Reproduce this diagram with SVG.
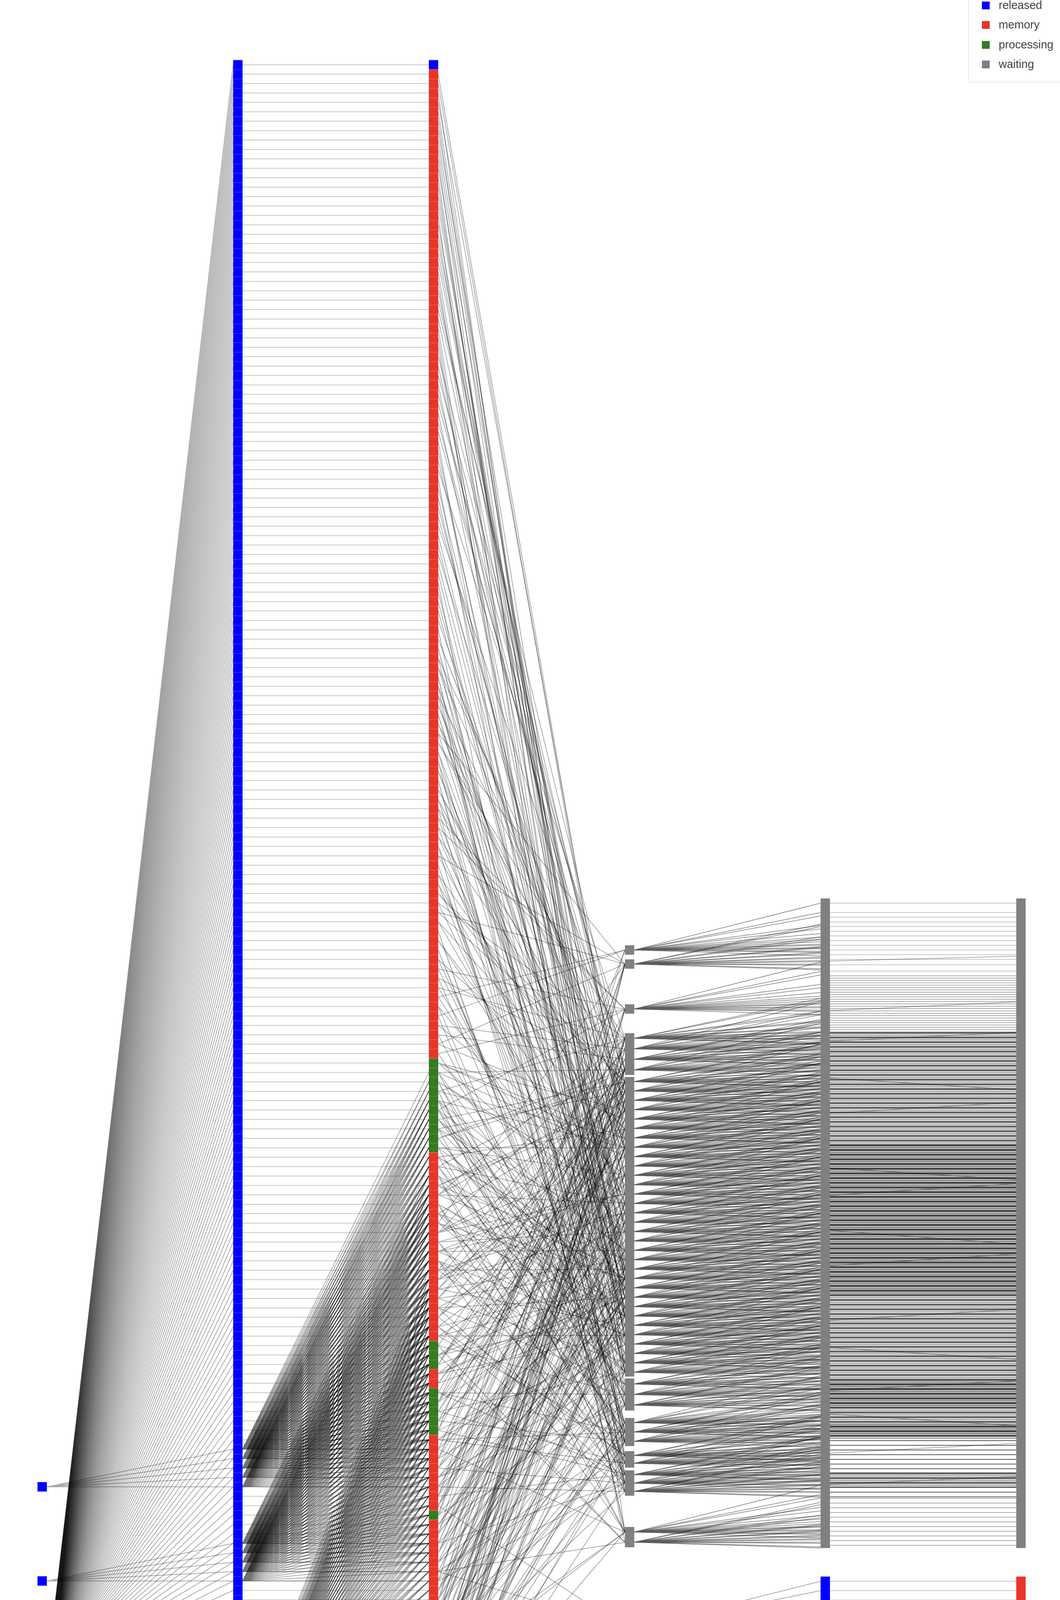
<svg xmlns="http://www.w3.org/2000/svg" width="2714" height="4592" viewBox="0 0 2714 4592">
<style>
path{vector-effect:non-scaling-stroke}
.e{fill:none;stroke:#000;stroke-opacity:.33;stroke-width:2}
.f{fill:none;stroke:#000;stroke-opacity:.4;stroke-width:2}
.m{fill:none;stroke:#000;stroke-opacity:.5;stroke-width:2}
.d{fill:none;stroke:#000;stroke-opacity:.65;stroke-width:2}
.h{fill:none;stroke:#000;stroke-opacity:.22;stroke-width:2}
.rel{fill:#0000ff}.mem{fill:#e8352a}.pro{fill:#367a23}.wai{fill:#808080}
.lt{font-family:"Liberation Sans",Arial,sans-serif;font-size:29px;fill:#444}
</style>
<defs>
<pattern id="sp" patternUnits="userSpaceOnUse" x="0" y="153.6" width="24" height="24.11"><rect width="24" height="1" fill="#fff" fill-opacity=".3"/></pattern>
<g id="fA">
<path d="M0 0H477M0 0L477-48.2M0 0L477-96.4M0 0L477-144.7M0 0L477-192.9M0 0L477-241.1M0 0L477-289.3M0 0L477-337.5M0 0L477-385.8M0 0L477-434M0 0L477-482.2M0 0L477-530.4M0 0L477-578.6M0 0L477-626.9M0 0L477-675.1M0 0L477-723.3M0 0L477-771.5M0 0L477-819.7M0 0L477-868M0 0L477-916.2M0 0L477-964.4"/>
<path d="M0 0L477-24.1M0 0L477-72.3M0 0L477-120.6M0 0L477-168.8M0 0L477-217M0 0L477-265.2M0 0L477-313.4M0 0L477-361.7M0 0L477-409.9M0 0L477-458.1M0 0L477-506.3M0 0L477-554.5M0 0L477-602.8M0 0L477-651M0 0L477-699.2M0 0L477-747.4M0 0L477-795.6M0 0L477-843.9M0 0L477-892.1M0 0L477-940.3"/>
</g>
<g id="fC">
<use href="#fA"/>
<path d="M0 0L477-988.5M0 0L477-1012.6M0 0L477-1036.7M0 0L477-1060.8M0 0L477-1085M0 0L477-1109.1M0 0L477-1133.2M0 0L477-1157.3M0 0L477-1181.4M0 0L477-1205.5"/>
</g>
<path id="f34" d="M0 0L477 6M0 0L477-3M0 0L477-12M0 0L477-21M0 0L477-33M0 0L477-54M0 0L477-87M0 0L477-120"/>
<path id="f35" d="M0 0L477 12M0 0L477 0M0 0L477-9M0 0L477-18M0 0L477-30M0 0L477-45M0 0L477-69M0 0L477-102"/>
<path id="f36" d="M0 0L477 15M0 0L477 3M0 0L477-6M0 0L477-15M0 0L477-27M0 0L477-42M0 0L477-63M0 0L477-96"/>
<g id="g34"><use href="#f34"/><use href="#f36"/></g>
<g id="g35"><use href="#f35"/><use href="#f36"/></g>
</defs>
<rect width="2714" height="4592" fill="#fff"/>
<g id="connectors">
<g transform="translate(0 153.6) scale(1 24.11)">
<g class="h">
<path d="M621 .5h477m-477 1h477m-477 1h477m-477 1h477m-477 1h477m-477 1h477m-477 1h477m-477 1h477m-477 1h477m-477 1h477m-477 1h477m-477 1h477m-477 1h477m-477 1h477m-477 1h477m-477 1h477m-477 1h477m-477 1h477m-477 1h477m-477 1h477m-477 1h477m-477 1h477m-477 1h477m-477 1h477m-477 1h477m-477 1h477m-477 1h477m-477 1h477m-477 1h477m-477 1h477m-477 1h477m-477 1h477m-477 1h477m-477 1h477m-477 1h477m-477 1h477m-477 1h477m-477 1h477m-477 1h477m-477 1h477m-477 1h477m-477 1h477m-477 1h477m-477 1h477m-477 1h477m-477 1h477m-477 1h477m-477 1h477m-477 1h477m-477 1h477m-477 1h477m-477 1h477m-477 1h477m-477 1h477m-477 1h477m-477 1h477m-477 1h477m-477 1h477m-477 1h477m-477 1h477m-477 1h477m-477 1h477m-477 1h477m-477 1h477m-477 1h477m-477 1h477m-477 1h477m-477 1h477m-477 1h477m-477 1h477m-477 1h477m-477 1h477m-477 1h477m-477 1h477m-477 1h477m-477 1h477m-477 1h477m-477 1h477m-477 1h477m-477 1h477m-477 1h477m-477 1h477m-477 1h477m-477 1h477m-477 1h477m-477 1h477m-477 1h477m-477 1h477m-477 1h477m-477 1h477m-477 1h477m-477 1h477m-477 1h477m-477 1h477m-477 1h477m-477 1h477m-477 1h477m-477 1h477m-477 1h477m-477 1h477m-477 1h477m-477 1h477m-477 1h477m-477 1h477m-477 1h477m-477 1h477m-477 1h477m-477 1h477m-477 1h477m-477 1h477m-477 1h477m-477 1h477m-477 1h477m-477 1h477m-477 1h477m-477 1h477m-477 1h477m-477 1h477m-477 1h477m-477 1h477m-477 1h477m-477 1h477m-477 1h477m-477 1h477m-477 1h477m-477 1h477m-477 1h477m-477 1h477m-477 1h477m-477 1h477m-477 1h477m-477 1h477m-477 1h477m-477 1h477m-477 1h477m-477 1h477m-477 1h477m-477 1h477m-477 1h477m-477 1h477m-477 1h477m-477 1h477m-477 1h477m-477 1h477m-477 1h477m-477 1h477m-477 1h477m-477 1h477m-477 1h477m-477 1h477m-477 1h477m-477 1h477m-477 1h477m-477 1h477m-477 1h477m-477 1h477m-477 1h477m-477 1h477m-477 1h477m-477 1h477m-477 1h477m-477 1h477m-477 1h477m-477 1h477m-477 1h477m-477 1h477m-477 1h477m-477 1h477m-477 1h477m-477 1h477m-477 1h477m-477 1h477m-477 1h477m-477 1h477m-477 1h477m-477 1h477m-477 1h477m-477 1h477m-477 1h477m-477 1h477m-477 1h477m-477 1h477m-477 1h477m-477 1h477m-477 1h477"/>
<path d="M621 178.5h477m-477 1h477m-477 1h477m-477 1h477"/>
</g>
<g class="e">
<g transform="translate(120 171.5)">
<path d="M0 0H477M0 0L477-6M0 0L477-12M0 0L477-18M0 0L477-24M0 0L477-30M0 0L477-36M0 0L477-42M0 0L477-48M0 0L477-54M0 0L477-60M0 0L477-66M0 0L477-72M0 0L477-78M0 0L477-84M0 0L477-90M0 0L477-96M0 0L477-102M0 0L477-108M0 0L477-114M0 0L477-120M0 0L477-126M0 0L477-132M0 0L477-138M0 0L477-144M0 0L477-150M0 0L477-156M0 0L477-162M0 0L477-168"/>
<path d="M0 0L477-1M0 0L477-7M0 0L477-13M0 0L477-19M0 0L477-25M0 0L477-31M0 0L477-37M0 0L477-43M0 0L477-49M0 0L477-55M0 0L477-61M0 0L477-67M0 0L477-73M0 0L477-79M0 0L477-85M0 0L477-91M0 0L477-97M0 0L477-103M0 0L477-109M0 0L477-115M0 0L477-121M0 0L477-127M0 0L477-133M0 0L477-139M0 0L477-145M0 0L477-151M0 0L477-157M0 0L477-163M0 0L477-169"/>
<path d="M0 0L477-2M0 0L477-8M0 0L477-14M0 0L477-20M0 0L477-26M0 0L477-32M0 0L477-38M0 0L477-44M0 0L477-50M0 0L477-56M0 0L477-62M0 0L477-68M0 0L477-74M0 0L477-80M0 0L477-86M0 0L477-92M0 0L477-98M0 0L477-104M0 0L477-110M0 0L477-116M0 0L477-122M0 0L477-128M0 0L477-134M0 0L477-140M0 0L477-146M0 0L477-152M0 0L477-158M0 0L477-164M0 0L477-170"/>
<path d="M0 0L477-3M0 0L477-9M0 0L477-15M0 0L477-21M0 0L477-27M0 0L477-33M0 0L477-39M0 0L477-45M0 0L477-51M0 0L477-57M0 0L477-63M0 0L477-69M0 0L477-75M0 0L477-81M0 0L477-87M0 0L477-93M0 0L477-99M0 0L477-105M0 0L477-111M0 0L477-117M0 0L477-123M0 0L477-129M0 0L477-135M0 0L477-141M0 0L477-147M0 0L477-153M0 0L477-159M0 0L477-165M0 0L477-171"/>
<path d="M0 0L477-4M0 0L477-10M0 0L477-16M0 0L477-22M0 0L477-28M0 0L477-34M0 0L477-40M0 0L477-46M0 0L477-52M0 0L477-58M0 0L477-64M0 0L477-70M0 0L477-76M0 0L477-82M0 0L477-88M0 0L477-94M0 0L477-100M0 0L477-106M0 0L477-112M0 0L477-118M0 0L477-124M0 0L477-130M0 0L477-136M0 0L477-142M0 0L477-148M0 0L477-154M0 0L477-160M0 0L477-166"/>
<path d="M0 0L477-5M0 0L477-11M0 0L477-17M0 0L477-23M0 0L477-29M0 0L477-35M0 0L477-41M0 0L477-47M0 0L477-53M0 0L477-59M0 0L477-65M0 0L477-71M0 0L477-77M0 0L477-83M0 0L477-89M0 0L477-95M0 0L477-101M0 0L477-107M0 0L477-113M0 0L477-119M0 0L477-125M0 0L477-131M0 0L477-137M0 0L477-143M0 0L477-149M0 0L477-155M0 0L477-161M0 0L477-167"/>
</g>
<path d="M120 151.5L597 147.5M120 151.5L597 148.5M120 151.5L597 149.5M120 151.5L597 150.5M120 151.5H597"/>
<path d="M120 161.5L597 157.5M120 161.5L597 158.5M120 161.5L597 159.5M120 161.5L597 160.5M120 161.5H597"/>
<path d="M120 181.5L597 178.5M120 181.5L597 179.5M120 181.5L597 180.5M120 181.5H597"/>
<path d="M1122 1.5L1600 115.5"/><path d="M1122 2.5L1600 116.4"/><path d="M1122 3.5L1600 141.7"/><path d="M1122 4.5L1600 114.5"/><path d="M1122 5.5L1600 136.4"/><path d="M1122 6.5L1600 138.3"/><path d="M1122 7.5L1600 128.4"/><path d="M1122 8.5L1600 133.4"/><path d="M1122 9.5L1600 139.3"/><path d="M1122 10.5L1600 149"/>
<path d="M1122 11.5L1600 127.4"/><path d="M1122 12.5L1600 145.7"/><path d="M1122 13.5L1600 139.3"/><path d="M1122 14.5L1600 133.4"/><path d="M1122 15.5L1600 128.4"/><path d="M1122 16.5L1600 156.3"/><path d="M1122 17.5L1600 129.4"/><path d="M1122 18.5L1600 133.4"/><path d="M1122 19.5L1600 120.4"/><path d="M1122 20.5L1600 120.4"/>
<path d="M1122 21.5L1600 118.4"/><path d="M1122 22.5L1600 140.6"/><path d="M1122 23.5L1600 142.8"/><path d="M1122 24.5L1600 124.4"/><path d="M1122 25.5L1600 111.5"/><path d="M1122 26.5L1600 107.2"/><path d="M1122 27.5L1600 121.4"/><path d="M1122 28.5L1600 148.2"/><path d="M1122 29.5L1600 152"/><path d="M1122 30.5L1600 146.7"/>
<path d="M1122 31.5L1600 108.5"/><path d="M1122 32.5L1600 124.4"/><path d="M1122 33.5L1600 108.5"/><path d="M1122 34.5L1600 130.4"/><path d="M1122 35.5L1600 113.5"/><path d="M1122 36.5L1600 107.2"/><path d="M1122 37.5L1600 129.4"/><path d="M1122 38.5L1600 111.5"/><path d="M1122 39.5L1600 109.5"/><path d="M1122 40.5L1600 150.2"/>
<path d="M1122 41.5L1600 135.4"/><path d="M1122 42.5L1600 129.4"/><path d="M1122 43.5L1600 103.9"/><path d="M1122 44.5L1600 151.1"/><path d="M1122 45.5L1600 126.4"/><path d="M1122 46.5L1600 135.4"/><path d="M1122 47.5L1600 122.4"/><path d="M1122 48.5L1600 118.4"/><path d="M1122 49.5L1600 107.2"/><path d="M1122 50.5L1600 128.4"/>
<path d="M1122 51.5L1600 131.4"/><path d="M1122 52.5L1600 115.5"/><path d="M1122 53.5L1600 129.4"/><path d="M1122 54.5L1600 135.4"/><path d="M1122 55.5L1600 157.4"/><path d="M1122 56.5L1600 133.4"/><path d="M1122 57.5L1600 131.4"/><path d="M1122 58.5L1600 131.4"/><path d="M1122 59.5L1600 115.5"/><path d="M1122 60.5L1600 150.2"/>
<path d="M1600 110.5L1122 61.5 1600 111.5"/><path d="M1600 139.3L1122 62.5 1600 134.4"/><path d="M1600 146.7L1122 63.5 1600 105"/><path d="M1600 109.5L1122 64.5 1600 128.4"/><path d="M1600 145.7L1122 65.5 1600 156.3"/>
<path d="M1600 156.3L1122 66.5 1600 122.4"/><path d="M1600 107.2L1122 67.5 1600 146.7"/><path d="M1600 123.4L1122 68.5 1600 116.4"/><path d="M1600 132.4L1122 69.5 1600 139.3"/><path d="M1600 121.4L1122 70.5 1600 110.5"/>
<path d="M1600 96L1122 71.5 1600 133.4"/><path d="M1600 108.5L1122 72.5 1600 103.9"/><path d="M1600 141.7L1122 73.5 1600 127.4"/><path d="M1600 130.4L1122 74.5 1600 152"/><path d="M1600 129.4L1122 75.5 1600 121.4"/>
<path d="M1600 151.1L1122 76.5 1600 145.7"/><path d="M1600 112.5L1122 77.5 1600 115.5"/><path d="M1600 118.4L1122 78.5 1600 138.3"/><path d="M1600 148.2L1122 79.5 1600 109.5"/><path d="M1600 100.8L1122 80.5 1600 132.4"/>
<path d="M1600 133.4L1122 81.5 1600 100.8"/><path d="M1600 111.5L1122 82.5 1600 126.4"/><path d="M1600 128.4L1122 83.5 1600 151.1"/><path d="M1600 96L1122 84.5 1600 120.4"/><path d="M1600 142.8L1122 85.5 1600 144.7"/>
<path d="M1600 134.4L1122 86.5 1600 114.5"/><path d="M1600 122.4L1122 87.5 1600 137.3"/><path d="M1600 111.5L1122 88.5 1600 108.5"/><path d="M1600 103.9L1122 89.5 1600 131.4"/><path d="M1600 108.5L1122 90.5 1600 96"/>
<path d="M1600 113.5L1122 91.5 1600 125.4"/><path d="M1600 149L1122 92.5 1600 150.2"/><path d="M1600 123.4L1122 93.5 1600 119.4"/><path d="M1600 144.7L1122 94.5 1600 142.8"/><path d="M1600 138.3L1122 95.5 1600 113.5"/>
<path d="M1600 100.8L1122 96.5 1600 136.4"/><path d="M1600 142.8L1122 97.5 1600 107.2"/><path d="M1600 103.9L1122 98.5 1600 130.4"/><path d="M1600 130.4L1122 99.5 1600 94.5"/><path d="M1600 146.7L1122 100.5 1600 124.4"/>
<path d="M1600 94.5L1122 101.5 1600 149"/><path d="M1600 105L1122 102.5 1600 118.4"/><path d="M1600 106.1L1122 103.5 1600 141.7"/><path d="M1600 96L1122 104.5 1600 112.5"/><path d="M1600 100.8L1122 105.5 1600 135.4"/>
<path d="M1600 123.4L1122 106.5 1600 114.5 1122 106.5 1600 115.5 1122 106.5 1600 111.5"/>
<path d="M1600 134.4L1122 107.5 1600 144.7 1122 107.5 1600 116.4 1122 107.5 1600 107.2"/>
<path d="M1600 146.7L1122 108.5 1600 120.4 1122 108.5 1600 141.7 1122 108.5 1600 121.4"/>
<path d="M1600 103.9L1122 109.5 1600 151.1 1122 109.5 1600 114.5 1122 109.5 1600 148.2"/>
<path d="M1600 115.5L1122 110.5 1600 126.4 1122 110.5 1600 136.4 1122 110.5 1600 152"/>
<path d="M1600 126.4L1122 111.5 1600 100.8 1122 111.5 1600 138.3 1122 111.5 1600 146.7"/>
<path d="M1600 137.3L1122 112.5 1600 132.4 1122 112.5 1600 128.4 1122 112.5 1600 108.5"/>
<path d="M1600 150.2L1122 113.5 1600 109.5 1122 113.5 1600 133.4 1122 113.5 1600 124.4"/>
<path d="M1600 107.2L1122 114.5 1600 138.3 1122 114.5 1600 139.3 1122 114.5 1600 108.5"/>
<path d="M1600 118.4L1122 115.5 1600 115.5 1122 115.5 1600 149 1122 115.5 1600 130.4"/>
<path d="M1600 129.4L1122 116.5 1600 145.7 1122 116.5 1600 127.4 1122 116.5 1600 113.5"/>
<path d="M1600 140.6L1122 117.5 1600 121.4 1122 117.5 1600 145.7 1122 117.5 1600 107.2"/>
<path d="M1600 156.3L1122 118.5 1600 152 1122 118.5 1600 139.3 1122 118.5 1600 129.4"/>
<path d="M1600 110.5L1122 119.5 1600 127.4 1122 119.5 1600 133.4 1122 119.5 1600 111.5"/>
<path d="M1600 121.4L1122 120.5 1600 103.9 1122 120.5 1600 128.4 1122 120.5 1600 109.5"/>
<path d="M1600 132.4L1122 121.5 1600 133.4 1122 121.5 1600 156.3 1122 121.5 1600 150.2"/>
<path d="M1600 144.7L1122 122.5 1600 110.5 1122 122.5 1600 129.4 1122 122.5 1600 135.4"/>
<path d="M1600 96L1122 123.5 1600 139.3 1122 123.5 1600 133.4 1122 123.5 1600 129.4"/>
<path d="M1600 113.5L1122 124.5 1600 116.4 1122 124.5 1600 120.4 1122 124.5 1600 103.9"/>
<path d="M1600 124.4L1122 125.5 1600 146.7 1122 125.5 1600 120.4 1122 125.5 1600 151.1"/>
<path d="M1600 135.4L1122 126.5 1600 122.4 1122 126.5 1600 118.4 1122 126.5 1600 126.4"/>
<path d="M1600 148.2L1122 127.5 1600 156.3 1122 127.5 1600 140.6 1122 127.5 1600 135.4"/>
<path d="M1600 105L1122 128.5 1600 128.4 1122 128.5 1600 142.8 1122 128.5 1600 122.4"/>
<path d="M1600 116.4L1122 129.5 1600 105 1122 129.5 1600 124.4 1122 129.5 1600 118.4"/>
<path d="M1600 127.4L1122 130.5 1600 134.4 1122 130.5 1600 111.5 1122 130.5 1600 107.2"/>
<path d="M1600 138.3L1122 131.5 1600 111.5 1122 131.5 1600 107.2 1122 131.5 1600 128.4"/>
<path d="M1600 151.1L1122 132.5 1600 140.6 1122 132.5 1600 121.4 1122 132.5 1600 131.4"/>
<path d="M1600 108.5L1122 133.5 1600 117.4 1122 133.5 1600 148.2 1122 133.5 1600 115.5"/>
<path d="M1600 119.4L1122 134.5 1600 148.2 1122 134.5 1600 152 1122 134.5 1600 129.4"/>
<path d="M1600 130.4L1122 135.5 1600 123.4 1122 135.5 1600 146.7 1122 135.5 1600 135.4"/>
<path d="M1600 141.7L1122 136.5 1600 157.4 1122 136.5 1600 108.5 1122 136.5 1600 157.4"/>
<path d="M1600 157.4L1122 137.5 1600 129.4 1122 137.5 1600 124.4 1122 137.5 1600 133.4"/>
<path d="M1600 111.5L1122 138.5 1600 106.1 1122 138.5 1600 108.5 1122 138.5 1600 131.4"/>
<path d="M1600 122.4L1122 139.5 1600 135.4 1122 139.5 1600 130.4 1122 139.5 1600 131.4"/>
<path d="M1600 133.4L1122 140.5 1600 112.5 1122 140.5 1600 113.5 1122 140.5 1600 115.5"/>
<path d="M1600 145.7L1122 141.5 1600 141.7 1122 141.5 1600 107.2 1122 141.5 1600 150.2"/>
<path d="M1600 100.8L1122 142.5 1600 118.4 1122 142.5 1600 129.4 1122 142.5 1600 110.5"/>
<path d="M1600 114.5L1122 143.5 1600 149 1122 143.5 1600 111.5 1122 143.5 1600 139.3"/>
<path d="M1600 125.4L1122 144.5 1600 124.4 1122 144.5 1600 109.5 1122 144.5 1600 146.7"/>
<path d="M1600 136.4L1122 145.5 1600 94.5 1122 145.5 1600 150.2 1122 145.5 1600 109.5"/>
<path d="M1600 149L1122 146.5 1600 130.4 1122 146.5 1600 135.4 1122 146.5 1600 145.7"/>
<path d="M1600 106.1L1122 147.5 1600 107.2 1122 147.5 1600 129.4 1122 147.5 1600 156.3"/>
<path d="M1600 117.4L1122 148.5 1600 136.4 1122 148.5 1600 103.9 1122 148.5 1600 107.2"/>
<path d="M1600 128.4L1122 149.5 1600 113.5 1122 149.5 1600 151.1 1122 149.5 1600 123.4"/>
<path d="M1600 139.3L1122 150.5 1600 142.8 1122 150.5 1600 126.4 1122 150.5 1600 132.4"/>
<path d="M1600 152L1122 151.5 1600 119.4 1122 151.5 1600 135.4 1122 151.5 1600 121.4"/>
<path d="M1600 109.5L1122 152.5 1600 150.2 1122 152.5 1600 122.4 1122 152.5 1600 96"/>
<path d="M1600 120.4L1122 153.5 1600 125.4 1122 153.5 1600 118.4 1122 153.5 1600 108.5"/>
<path d="M1600 131.4L1122 154.5 1600 96 1122 154.5 1600 107.2 1122 154.5 1600 141.7"/>
<path d="M1600 142.8L1122 155.5 1600 131.4 1122 155.5 1600 128.4 1122 155.5 1600 130.4"/>
<path d="M1600 94.5L1122 156.5 1600 108.5 1122 156.5 1600 131.4 1122 156.5 1600 129.4"/>
<path d="M1600 112.5L1122 157.5 1600 137.3 1122 157.5 1600 115.5 1122 157.5 1600 151.1"/>
<path d="M1600 123.4L1122 158.5 1600 114.5 1122 158.5 1600 129.4 1122 158.5 1600 112.5"/>
<path d="M1600 134.4L1122 159.5 1600 144.7 1122 159.5 1600 135.4 1122 159.5 1600 118.4"/>
<path d="M1600 146.7L1122 160.5 1600 120.4 1122 160.5 1600 157.4 1122 160.5 1600 148.2"/>
<path d="M1600 103.9L1122 161.5 1600 151.1 1122 161.5 1600 133.4 1122 161.5 1600 100.8"/>
<path d="M1600 115.5L1122 162.5 1600 126.4 1122 162.5 1600 131.4 1122 162.5 1600 133.4"/>
<path d="M1600 126.4L1122 163.5 1600 100.8 1122 163.5 1600 131.4 1122 163.5 1600 111.5"/>
<path d="M1600 137.3L1122 164.5 1600 132.4 1122 164.5 1600 115.5 1122 164.5 1600 128.4"/>
<path d="M1600 150.2L1122 165.5 1600 109.5 1122 165.5 1600 150.2 1122 165.5 1600 96"/>
<path d="M1600 107.2L1122 166.5 1600 138.3 1122 166.5 1600 110.5 1122 166.5 1600 142.8"/>
<path d="M1600 118.4L1122 167.5 1600 115.5 1122 167.5 1600 139.3 1122 167.5 1600 134.4"/>
<path d="M1600 129.4L1122 168.5 1600 145.7 1122 168.5 1600 146.7 1122 168.5 1600 122.4"/>
<path d="M1600 140.6L1122 169.5 1600 121.4 1122 169.5 1600 109.5 1122 169.5 1600 111.5"/>
<path d="M1600 156.3L1122 170.5 1600 152 1122 170.5 1600 145.7 1122 170.5 1600 103.9"/>
<path d="M1600 110.5L1122 171.5 1600 127.4 1122 171.5 1600 156.3 1122 171.5 1600 108.5"/>
<path d="M1600 121.4L1122 172.5 1600 103.9 1122 172.5 1600 107.2 1122 172.5 1600 113.5"/>
<path d="M1600 132.4L1122 173.5 1600 133.4 1122 173.5 1600 123.4 1122 173.5 1600 149"/>
<path d="M1600 144.7L1122 174.5 1600 110.5 1122 174.5 1600 132.4 1122 174.5 1600 123.4"/>
<path d="M1600 96L1122 175.5 1600 139.3 1122 175.5 1600 121.4 1122 175.5 1600 144.7"/>
<path d="M1600 113.5L1122 176.5 1600 116.4 1122 176.5 1600 96 1122 176.5 1600 138.3"/>
<path d="M1600 124.4L1122 177.5 1600 146.7 1122 177.5 1600 108.5 1122 177.5 1600 100.8"/>
<path d="M1600 135.4L1122 178.5 1600 122.4 1122 178.5 1600 141.7 1122 178.5 1600 142.8"/>
<path d="M1600 148.2L1122 179.5 1600 156.3 1122 179.5 1600 130.4 1122 179.5 1600 103.9"/>
<path d="M1600 105L1122 180.5 1600 128.4 1122 180.5 1600 129.4 1122 180.5 1600 130.4"/>
<path d="M1600 116.4L1122 181.5 1600 105 1122 181.5 1600 151.1 1122 181.5 1600 146.7"/>
<path d="M1122 153.5L1600 166.5"/><path d="M1122 160.5L1600 166.5"/><path d="M1122 171.5L1600 166.5"/><path d="M1122 179.5L1600 166.5"/><path d="M1122 181.5L1600 166.5"/>
</g>
</g>
<g class="e">
<use href="#fA" x="621" y="3709.8"/><use href="#fA" x="621" y="3733.9"/><use href="#fA" x="621" y="3758"/><use href="#fA" x="621" y="3782.1"/><use href="#fA" x="621" y="3806.2"/>
<use href="#fA" x="621" y="3950.9"/><use href="#fA" x="621" y="3975"/><use href="#fA" x="621" y="3999.1"/><use href="#fA" x="621" y="4023.2"/><use href="#fA" x="621" y="4047.3"/>
<use href="#fC" x="621" y="4457.2"/><use href="#fC" x="621" y="4481.3"/><use href="#fC" x="621" y="4505.4"/><use href="#fC" x="621" y="4529.5"/>
<path d="M1624 4168L2101 4048"/><path d="M1624 4168L2101 4072"/><path d="M1624 4168L2101 4096"/><path d="M1624 4168L2101 4120"/><path d="M1624 4168L2101 4144"/><path d="M1624 4168H2101"/>
<path d="M2125 2498h477m-477 6h477m-477 6h477m-477 6h477m-477 6h477m-477 6h477m-477 6h477m-477 6h477m-477 6h477m-477 6h477m-477 6h477m-477 6h477m-477 6h477m-477 6h477m-477 6h477m-477 6h477m-477 6h477m-477 6h477m-477 6h477m-477 6h477m-477 6h477m-477 6h477m-477 6h477m-477 6h477"/>
<path d="M2125 3836h477m-477 12h477m-477 12h477m-477 12h477m-477 12h477m-477 12h477m-477 12h477m-477 12h477m-477 12h477m-477 12h477m-477 12h477"/>
<path d="M2125 2587L2602 2565M2125 2665L2602 2643M2125 2760L2602 2790M2125 2850L2602 2822M2125 2990L2602 3020M2125 3060L2602 3030M2125 3150L2602 3185M2125 3240L2602 3210M2125 3380L2602 3352M2125 3450L2602 3480M2125 3560L2602 3535M2125 3620L2602 3650M2125 3720L2602 3695M2125 3800L2602 3780M2125 2460L2602 2448"/>
</g>
<g class="f">
<use href="#g34" x="1624" y="2432"/><use href="#g35" x="1624" y="2468"/><use href="#g34" x="1624" y="2583"/><use href="#g35" x="1624" y="2658"/><use href="#g34" x="1624" y="2685"/><use href="#g35" x="1624" y="2712"/><use href="#g34" x="1624" y="2739"/><use href="#g35" x="1624" y="2769"/><use href="#g34" x="1624" y="2793"/><use href="#g35" x="1624" y="2817"/>
<use href="#g34" x="1624" y="2841"/><use href="#g35" x="1624" y="2865"/><use href="#g34" x="1624" y="2889"/><use href="#g35" x="1624" y="2913"/><use href="#g34" x="1624" y="2937"/><use href="#g35" x="1624" y="2961"/><use href="#g34" x="1624" y="2985"/><use href="#g35" x="1624" y="3009"/><use href="#g34" x="1624" y="3033"/><use href="#g35" x="1624" y="3057"/>
<use href="#g34" x="1624" y="3081"/><use href="#g35" x="1624" y="3105"/><use href="#g34" x="1624" y="3129"/><use href="#g35" x="1624" y="3153"/><use href="#g34" x="1624" y="3177"/><use href="#g35" x="1624" y="3201"/><use href="#g34" x="1624" y="3225"/><use href="#g35" x="1624" y="3249"/><use href="#g34" x="1624" y="3273"/><use href="#g35" x="1624" y="3297"/>
<use href="#g34" x="1624" y="3321"/><use href="#g35" x="1624" y="3345"/><use href="#g34" x="1624" y="3369"/><use href="#g35" x="1624" y="3393"/><use href="#g34" x="1624" y="3417"/><use href="#g35" x="1624" y="3441"/><use href="#g34" x="1624" y="3465"/><use href="#g35" x="1624" y="3489"/><use href="#g34" x="1624" y="3513"/><use href="#g35" x="1624" y="3543"/>
<use href="#g34" x="1624" y="3570"/><use href="#g35" x="1624" y="3597"/><use href="#g34" x="1624" y="3642"/><use href="#g35" x="1624" y="3666"/><use href="#g34" x="1624" y="3690"/><use href="#g35" x="1624" y="3726"/><use href="#g34" x="1624" y="3746"/><use href="#g35" x="1624" y="3775"/><use href="#g34" x="1624" y="3797"/><use href="#g35" x="1624" y="3818"/>
<use href="#g34" x="1624" y="3922"/><use href="#g35" x="1624" y="3948"/>
</g>
<g class="m">
<path d="M2125 2642h477m-477 4h477m-477 4h477m-477 4h477m-477 4h477m-477 4h477m-477 4h477m-477 4h477m-477 4h477m-477 4h477m-477 4h477m-477 4h477m-477 4h477m-477 4h477m-477 4h477m-477 4h477m-477 4h477m-477 4h477m-477 4h477m-477 4h477m-477 4h477m-477 4h477m-477 4h477m-477 4h477m-477 4h477m-477 4h477m-477 4h477m-477 4h477m-477 4h477m-477 4h477m-477 4h477m-477 4h477m-477 4h477m-477 4h477m-477 4h477m-477 4h477m-477 4h477m-477 4h477m-477 4h477m-477 4h477m-477 4h477m-477 4h477m-477 4h477m-477 4h477m-477 4h477m-477 4h477m-477 4h477m-477 4h477m-477 4h477m-477 4h477m-477 4h477m-477 4h477m-477 4h477m-477 4h477m-477 4h477m-477 4h477m-477 4h477m-477 4h477m-477 4h477m-477 4h477m-477 4h477m-477 4h477m-477 4h477m-477 4h477m-477 4h477m-477 4h477m-477 4h477m-477 4h477m-477 4h477m-477 4h477m-477 4h477m-477 4h477m-477 4h477m-477 4h477m-477 4h477m-477 4h477m-477 4h477m-477 4h477m-477 4h477m-477 4h477m-477 4h477m-477 4h477m-477 4h477m-477 4h477m-477 4h477m-477 4h477m-477 4h477m-477 4h477m-477 4h477m-477 4h477m-477 4h477m-477 4h477m-477 4h477m-477 4h477m-477 4h477m-477 4h477m-477 4h477m-477 4h477m-477 4h477m-477 4h477m-477 4h477m-477 4h477m-477 4h477m-477 4h477m-477 4h477m-477 4h477m-477 4h477m-477 4h477m-477 4h477m-477 4h477m-477 4h477m-477 4h477m-477 4h477m-477 4h477m-477 4h477m-477 4h477m-477 4h477m-477 4h477m-477 4h477m-477 4h477m-477 4h477m-477 4h477m-477 4h477m-477 4h477m-477 4h477m-477 4h477m-477 4h477m-477 4h477m-477 4h477m-477 4h477m-477 4h477m-477 4h477m-477 4h477m-477 4h477m-477 4h477m-477 4h477m-477 4h477m-477 4h477m-477 4h477m-477 4h477m-477 4h477m-477 4h477m-477 4h477m-477 4h477m-477 4h477m-477 4h477m-477 4h477m-477 4h477m-477 4h477m-477 4h477m-477 4h477m-477 4h477m-477 4h477m-477 4h477m-477 4h477m-477 4h477m-477 4h477m-477 4h477m-477 4h477m-477 4h477m-477 4h477m-477 4h477m-477 4h477m-477 4h477m-477 4h477m-477 4h477m-477 4h477m-477 4h477m-477 4h477m-477 4h477m-477 4h477m-477 4h477m-477 4h477m-477 4h477m-477 4h477m-477 4h477m-477 4h477m-477 4h477m-477 4h477m-477 4h477m-477 4h477m-477 4h477m-477 4h477m-477 4h477m-477 4h477m-477 4h477m-477 4h477m-477 4h477m-477 4h477m-477 4h477m-477 4h477m-477 4h477m-477 4h477m-477 4h477m-477 4h477m-477 4h477m-477 4h477m-477 4h477m-477 4h477m-477 4h477m-477 4h477m-477 4h477m-477 4h477m-477 4h477m-477 4h477m-477 4h477m-477 4h477m-477 4h477m-477 4h477m-477 4h477m-477 4h477m-477 4h477m-477 4h477m-477 4h477m-477 4h477m-477 4h477m-477 4h477m-477 4h477m-477 4h477m-477 4h477m-477 4h477m-477 4h477m-477 4h477m-477 4h477m-477 4h477m-477 4h477m-477 4h477m-477 4h477m-477 4h477m-477 4h477m-477 4h477m-477 4h477m-477 4h477m-477 4h477m-477 4h477m-477 4h477m-477 4h477m-477 4h477m-477 4h477m-477 4h477m-477 4h477m-477 4h477m-477 4h477m-477 4h477m-477 4h477m-477 4h477m-477 4h477m-477 4h477m-477 4h477m-477 4h477m-477 4h477m-477 4h477m-477 4h477m-477 4h477m-477 4h477m-477 4h477m-477 4h477m-477 4h477m-477 4h477"/>
<path d="M2125 2930h477m-477 4h477m-477 4h477m-477 4h477m-477 4h477m-477 4h477m-477 4h477m-477 4h477m-477 4h477m-477 4h477m-477 4h477m-477 4h477m-477 4h477m-477 4h477m-477 4h477m-477 4h477m-477 4h477m-477 4h477m-477 4h477m-477 4h477m-477 4h477m-477 4h477m-477 4h477m-477 4h477m-477 4h477m-477 4h477m-477 4h477m-477 4h477m-477 4h477m-477 4h477m-477 4h477m-477 4h477m-477 4h477m-477 4h477m-477 4h477m-477 4h477m-477 4h477m-477 4h477m-477 4h477m-477 4h477m-477 4h477m-477 4h477m-477 4h477m-477 4h477m-477 4h477m-477 4h477m-477 4h477m-477 4h477m-477 4h477m-477 4h477m-477 4h477m-477 4h477m-477 4h477m-477 4h477m-477 4h477m-477 4h477m-477 4h477m-477 4h477m-477 4h477m-477 4h477m-477 4h477m-477 4h477m-477 4h477m-477 4h477m-477 4h477m-477 4h477m-477 4h477m-477 4h477m-477 4h477m-477 4h477m-477 4h477m-477 4h477m-477 4h477m-477 4h477m-477 4h477m-477 4h477m-477 4h477m-477 4h477m-477 4h477m-477 4h477m-477 4h477m-477 4h477m-477 4h477m-477 4h477m-477 4h477m-477 4h477m-477 4h477m-477 4h477m-477 4h477m-477 4h477m-477 4h477m-477 4h477m-477 4h477m-477 4h477m-477 4h477m-477 4h477m-477 4h477"/>
<path d="M2125 3534h477m-477 4h477m-477 4h477m-477 4h477m-477 4h477m-477 4h477m-477 4h477m-477 4h477m-477 4h477m-477 4h477m-477 4h477m-477 4h477m-477 4h477m-477 4h477m-477 4h477m-477 4h477m-477 4h477m-477 4h477M2125 3646h477m-477 4h477m-477 4h477m-477 4h477m-477 4h477m-477 4h477m-477 4h477m-477 4h477m-477 4h477m-477 4h477M2125 3770h477m-477 4h477m-477 4h477m-477 4h477m-477 4h477m-477 4h477m-477 4h477m-477 4h477m-477 4h477m-477 4h477"/>
</g>
<g class="d">
<path d="M2125 2644h477m-477 12h477m-477 12h477m-477 12h477m-477 12h477m-477 12h477m-477 12h477m-477 12h477m-477 12h477m-477 12h477m-477 12h477m-477 12h477m-477 12h477m-477 12h477m-477 12h477m-477 12h477m-477 12h477m-477 12h477m-477 12h477m-477 12h477m-477 12h477m-477 12h477m-477 12h477m-477 12h477m-477 12h477m-477 12h477m-477 12h477m-477 12h477m-477 12h477m-477 12h477m-477 12h477m-477 12h477m-477 12h477m-477 12h477m-477 12h477m-477 12h477m-477 12h477m-477 12h477m-477 12h477m-477 12h477m-477 12h477m-477 12h477m-477 12h477m-477 12h477m-477 12h477m-477 12h477m-477 12h477m-477 12h477m-477 12h477m-477 12h477m-477 12h477m-477 12h477m-477 12h477m-477 12h477m-477 12h477m-477 12h477m-477 12h477m-477 12h477m-477 12h477m-477 12h477m-477 12h477m-477 12h477m-477 12h477m-477 12h477m-477 12h477m-477 12h477m-477 12h477m-477 12h477m-477 12h477m-477 12h477m-477 12h477m-477 12h477m-477 12h477m-477 12h477m-477 12h477m-477 12h477m-477 12h477m-477 12h477m-477 12h477m-477 12h477m-477 12h477m-477 12h477m-477 12h477m-477 12h477m-477 12h477m-477 12h477m-477 12h477m-477 12h477m-477 12h477m-477 12h477m-477 12h477m-477 12h477m-477 12h477m-477 12h477m-477 12h477m-477 12h477m-477 12h477m-477 12h477m-477 12h477m-477 12h477"/>
</g>
<g class="h">
<path d="M2125 2312h477m-477 24h477m-477 12h477m-477 12h477m-477 12h477m-477 12h477m-477 12h477m-477 12h477m-477 12h477m-477 12h477m-477 12h477m-477 12h477m-477 14h477m-477 16h477"/>
<path d="M2125 4048h477m-477 24h477m-477 24h477m-477 24h477m-477 24h477m-477 24h477"/>
</g>
</g>
<g id="nodes">
<g transform="translate(0 153.6) scale(1 24.11)">
<g id="src-1"><rect class="rel" x="96" y="151" width="24" height="1"/></g>
<g id="src-2"><rect class="rel" x="96" y="161" width="24" height="1"/></g>
<g id="src-3"><rect class="rel" x="96" y="171" width="24" height="1"/></g>
<g id="src-4"><rect class="rel" x="96" y="181" width="24" height="1"/></g>
<g id="col1-main"><rect class="rel" x="597" y="0" width="24" height="172"/></g>
<g id="col1-bottom"><rect class="rel" x="597" y="178" width="24" height="4"/></g>
<g id="col2-s1"><rect class="rel" x="1098" y="0" width="24" height="1"/></g>
<g id="col2-s2"><rect class="mem" x="1098" y="1" width="24" height="105"/></g>
<g id="col2-s3"><rect class="pro" x="1098" y="106" width="24" height="10"/></g>
<g id="col2-s4"><rect class="mem" x="1098" y="116" width="24" height="20"/></g>
<g id="col2-s5"><rect class="pro" x="1098" y="136" width="24" height="3"/></g>
<g id="col2-s6"><rect class="mem" x="1098" y="139" width="24" height="2"/></g>
<g id="col2-s7"><rect class="pro" x="1098" y="141" width="24" height="5"/></g>
<g id="col2-s8"><rect class="mem" x="1098" y="146" width="24" height="8"/></g>
<g id="col2-s9"><rect class="pro" x="1098" y="154" width="24" height="1"/></g>
<g id="col2-s10"><rect class="mem" x="1098" y="155" width="24" height="14"/></g>
<g id="col2-s11"><rect class="pro" x="1098" y="169" width="24" height="1"/></g>
<g id="col2-s12"><rect class="mem" x="1098" y="170" width="24" height="8"/></g>
<g id="col2-s13"><rect class="pro" x="1098" y="178" width="24" height="3"/></g>
<g id="col2-s14"><rect class="rel" x="1098" y="181" width="24" height="1"/></g>
</g>
<rect x="597" y="153.6" width="24" height="4147" fill="url(#sp)"/>
<rect x="1098" y="153.6" width="24" height="4388" fill="url(#sp)"/>
<g id="col3-a"><rect class="wai" x="1600" y="2420" width="24" height="24"/></g>
<g id="col3-b"><rect class="wai" x="1600" y="2456" width="24" height="24"/></g>
<g id="col3-c"><rect class="wai" x="1600" y="2571" width="24" height="24"/></g>
<g id="col3-d"><rect class="wai" x="1600" y="2645" width="24" height="107"/></g>
<g id="col3-e"><rect class="wai" x="1600" y="2757" width="24" height="744"/></g>
<g id="col3-f"><rect class="wai" x="1600" y="3501" width="24" height="23"/></g>
<g id="col3-g"><rect class="wai" x="1600" y="3529" width="24" height="82"/></g>
<g id="col3-h"><rect class="wai" x="1600" y="3630" width="24" height="72"/></g>
<g id="col3-i"><rect class="wai" x="1600" y="3715" width="24" height="42"/></g>
<g id="col3-j"><rect class="wai" x="1600" y="3764" width="24" height="65"/></g>
<g id="col3-k"><rect class="wai" x="1600" y="3909" width="24" height="52"/></g>
<g id="col3-rel"><rect class="rel" x="1600" y="4156" width="24" height="24"/></g>
<g id="col4-wait"><rect class="wai" x="2101" y="2300" width="24" height="1663"/></g>
<g id="col4-rel"><rect class="rel" x="2101" y="4036" width="24" height="144"/></g>
<g id="col5-wait"><rect class="wai" x="2602" y="2300" width="24" height="1663"/></g>
<g id="col5-mem"><rect class="mem" x="2602" y="4036" width="24" height="144"/></g>
</g>
<g id="legend">
<rect x="2480" y="-10" width="250" height="220" fill="#fff" stroke="#e8e8e8" stroke-width="2"/>
<rect class="rel" x="2514" y="4" width="20" height="20"/>
<text class="lt" x="2557" y="23">released</text>
<rect class="mem" x="2514" y="54" width="20" height="20"/>
<text class="lt" x="2557" y="73">memory</text>
<rect class="pro" x="2514" y="105" width="20" height="20"/>
<text class="lt" x="2557" y="124">processing</text>
<rect class="wai" x="2514" y="155" width="20" height="20"/>
<text class="lt" x="2557" y="174">waiting</text>
</g>
</svg>
